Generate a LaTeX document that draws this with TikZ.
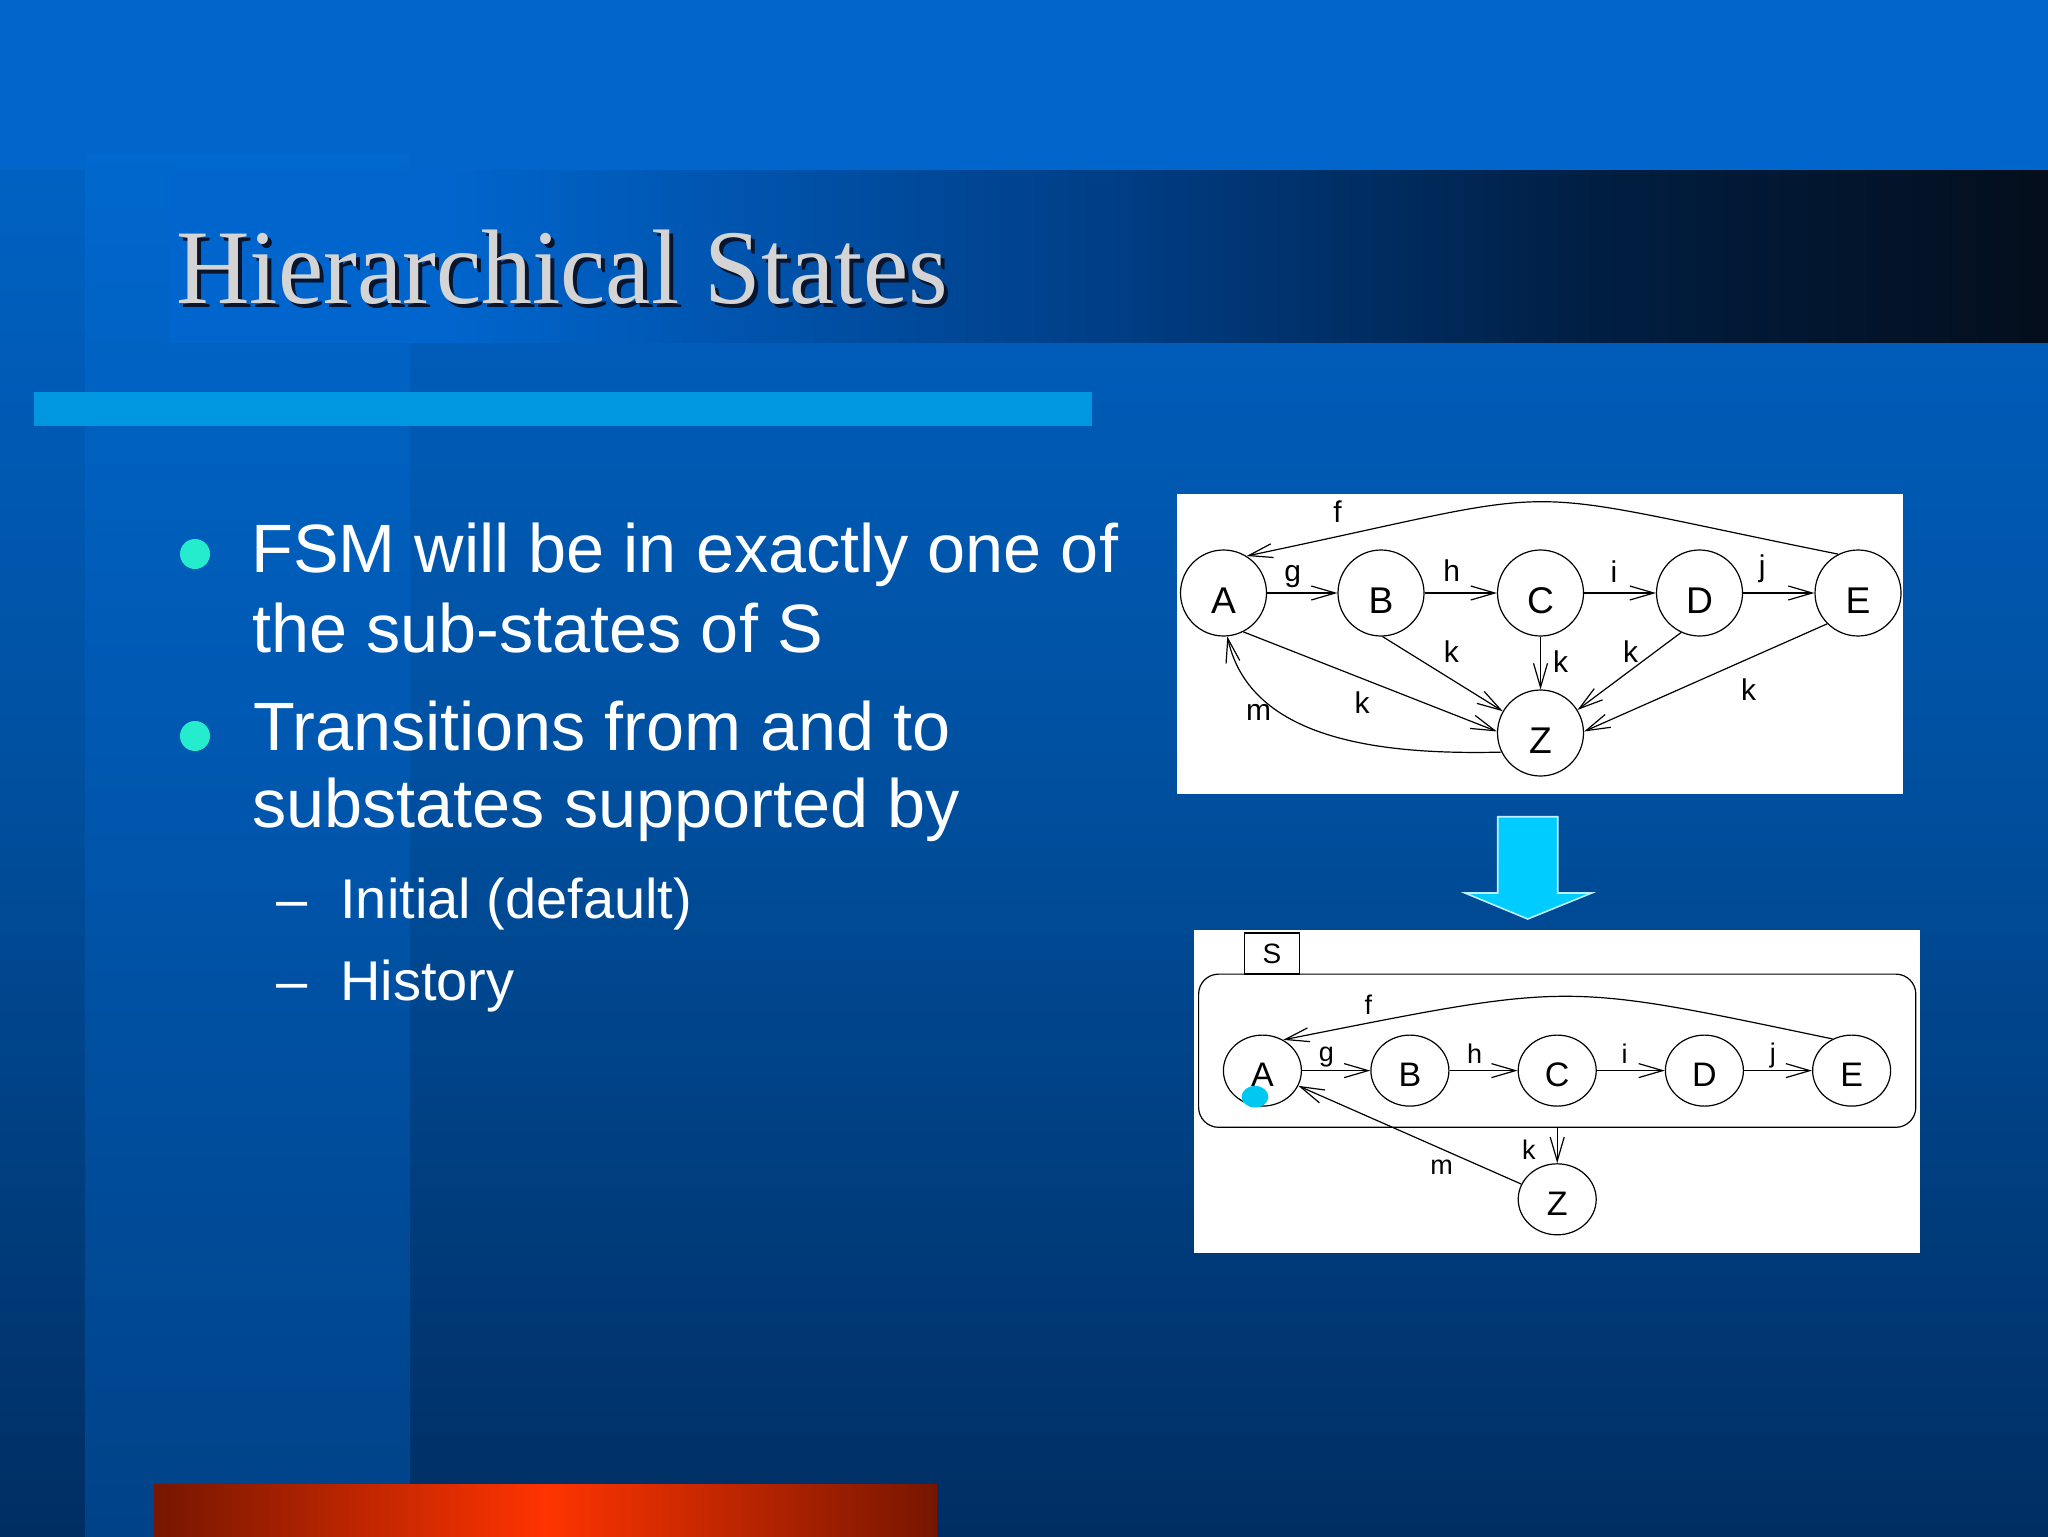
\documentclass[tikz,border=0pt]{standalone}
\usepackage{fontspec}
\setmainfont{Liberation Sans}
\newfontfamily\titlefont{Liberation Serif}
\usetikzlibrary{arrows.meta,shapes.geometric}
\definecolor{bgtop}{RGB}{0,102,204}
\definecolor{bgmid}{RGB}{0,80,160}
\definecolor{bgbot}{RGB}{0,46,98}
\definecolor{stripetop}{RGB}{0,104,206}
\definecolor{stripebot}{RGB}{0,66,136}
\definecolor{bandA}{RGB}{0,102,206}
\definecolor{bandB}{RGB}{0,62,134}
\definecolor{bandC}{RGB}{0,30,66}
\definecolor{bandD}{RGB}{4,14,28}
\definecolor{lightbar}{RGB}{0,150,224}
\definecolor{titlegray}{RGB}{212,212,212}
\definecolor{titleshadow}{RGB}{10,20,45}
\definecolor{bulletcol}{RGB}{36,236,204}
\definecolor{redA}{RGB}{118,22,0}
\definecolor{redB}{RGB}{255,52,0}
\definecolor{arrowcyan}{RGB}{0,204,255}
\definecolor{arrowedge}{RGB}{190,240,255}
\definecolor{dotcyan}{RGB}{0,200,240}
\pgfdeclarehorizontalshading{bandshade}{100bp}{color(0bp)=(bandA); color(25bp)=(bandA); color(32bp)=(bandA); color(50bp)=(bandB); color(63bp)=(bandC); color(75bp)=(bandD); color(100bp)=(bandD)}
\tikzset{
  st/.style={circle, draw=black, fill=white, line width=0.6pt, minimum size=43pt, inner sep=0pt, font=\fontsize{18.6}{18.6}\selectfont, text height=20pt, text depth=0pt},
  stb/.style={ellipse, draw=black, fill=white, line width=0.6pt, minimum width=39pt, minimum height=35.5pt, inner sep=0pt, font=\fontsize{17}{17}\selectfont, text height=16.2pt, text depth=0pt},
  trans/.style={draw=black, line width=0.6pt, -{Straight Barb[length=12pt,width=7pt]}},
  lbl/.style={font=\fontsize{15}{15}\selectfont, inner sep=0pt},
  lblb/.style={font=\fontsize{13.5}{13.5}\selectfont, inner sep=0pt},
  bodytext/.style={anchor=base west, inner sep=0pt, text=white, font=\fontsize{34.2}{40}\selectfont},
  subtext/.style={anchor=base west, inner sep=0pt, text=white, font=\fontsize{28}{34}\selectfont},
  bulletdot/.style={circle, fill=bulletcol, minimum size=15pt, inner sep=0pt},
}
\begin{document}
\begin{tikzpicture}[x=0.5pt, y=-0.5pt]
\useasboundingbox (0,0) rectangle (2048,1536);
% background
\shade[top color=bgtop, bottom color=bgbot, middle color=bgmid] (0,0) rectangle (2048,1536);
\fill[bgtop] (0,0) rectangle (2048,170);
\shade[top color=stripetop, bottom color=stripebot] (85,153) rectangle (410,1536);
\shade[shading=bandshade] (170,170) rectangle (2048,342);
\fill[lightbar] (34,392) rectangle (1092,426);
\shade[left color=redA, right color=redA, middle color=redB] (154,1484) rectangle (937,1536);
% title
\node[anchor=base west, inner sep=0pt, text=titleshadow, font=\titlefont\fontsize{53}{60}\selectfont] (tshadow) at (180,307) {\scalebox{0.96}[1]{Hierarchical States}};
\node[anchor=base west, inner sep=0pt, text=titlegray, font=\titlefont\fontsize{53}{60}\selectfont] (title) at (176,303) {\scalebox{0.96}[1]{Hierarchical States}};
% bullets
\node[bulletdot] (b1) at (195,554) {};
\node[bulletdot] (b2) at (195,736) {};
\node[bodytext] (l1) at (251,572) {FSM will be in exactly one of};
\node[bodytext] (l2) at (252,652) {the sub-states of S};
\node[bodytext] (l3) at (253,750) {Transitions from and to};
\node[bodytext] (l4) at (252,827) {substates supported by};
\node[subtext] (d1) at (276,918) {–};
\node[subtext] (s1) at (340,918) {Initial (default)};
\node[subtext] (d2) at (276,1000) {–};
\node[subtext] (s2) at (340,1000) {History};
% top diagram
\fill[white] (1177,494) rectangle (1903,794);
\node[st] (A) at (1223.5,593) {A};
\node[st] (B) at (1381,593) {B};
\node[st] (C) at (1540.5,593) {C};
\node[st] (D) at (1699.5,593) {D};
\node[st] (E) at (1858,593) {E};
\node[st] (Z) at (1540.5,733) {Z};
\draw[trans] (A) -- (B);
\draw[trans] (B) -- (C);
\draw[trans] (C) -- (D);
\draw[trans] (D) -- (E);
\draw[trans] (A.-63) -- (Z.178);
\draw[trans] (B.-88) -- (Z.150);
\draw[trans] (C) -- (Z);
\draw[trans] (D.-115) -- (Z.32);
\draw[trans] (E.-135) -- (Z.2);
\draw[trans] (E.117) .. controls (1490,484) and (1590,484) .. (A.58);
\draw[trans] (Z.206) .. controls (1380,755) and (1250,740) .. (A.-85);
\node[lbl] (tf) at (1337.5,512) {f};
\node[lbl] (tg) at (1292.7,577) {g};
\node[lbl] (th) at (1451.7,571) {h};
\node[lbl] (ti) at (1614,572) {i};
\node[lbl] (tj) at (1762.3,569) {j};
\node[lbl] (tk1) at (1451.3,652) {k};
\node[lbl] (tk2) at (1560.7,662) {k};
\node[lbl] (tk3) at (1630.6,652) {k};
\node[lbl] (tk4) at (1362,703) {k};
\node[lbl] (tk5) at (1748.6,690) {k};
\node[lbl] (tm) at (1258.7,712) {m};
% down arrow
\filldraw[fill=arrowcyan, draw=arrowedge, line width=0.8pt] (1497.7,816.7) -- (1557.7,816.7) -- (1557.7,893) -- (1591.7,893) -- (1527.7,919) -- (1465,893) -- (1497.7,893) -- cycle;
% bottom diagram
\fill[white] (1194,930) rectangle (1920,1253);
\node[draw=black, line width=0.6pt, minimum width=27.6pt, minimum height=20.5pt, inner sep=0pt, font=\fontsize{14}{14}\selectfont] (Stab) at (1271.9,953.5) {S};
\node[draw=black, line width=0.6pt, rounded corners=10pt, minimum width=358.6pt, minimum height=76.6pt, inner sep=0pt] (S) at (1557.2,1050.7) {};
\node[stb] (A2) at (1262.4,1070.6) {A};
\node[stb] (B2) at (1409.9,1070.6) {B};
\node[stb] (C2) at (1557.2,1070.6) {C};
\node[stb] (D2) at (1704.4,1070.6) {D};
\node[stb] (E2) at (1851.6,1070.6) {E};
\node[stb] (Z2) at (1557.2,1199.3) {Z};
\fill[dotcyan] (1255,1096.7) ellipse [x radius=6.7pt, y radius=5.4pt];
\draw[trans] (A2) -- (B2);
\draw[trans] (B2) -- (C2);
\draw[trans] (C2) -- (D2);
\draw[trans] (D2) -- (E2);
\draw[trans] (E2.121) .. controls (1560,982) and (1575,982) .. (A2.56);
\draw[trans] (Z2.north |- S.south) -- (Z2.north);
\draw[trans] (Z2.157) -- (A2.-23);
\node[lblb] (bf) at (1368.4,1005) {f};
\node[lblb] (bg) at (1326.4,1057) {g};
\node[lblb] (bh) at (1474.6,1054) {h};
\node[lblb] (bi) at (1624.6,1054) {i};
\node[lblb] (bj) at (1772.8,1056) {j};
\node[lblb] (bk) at (1528.8,1150) {k};
\node[lblb] (bm) at (1441.5,1167) {m};
\end{tikzpicture}
\end{document}
